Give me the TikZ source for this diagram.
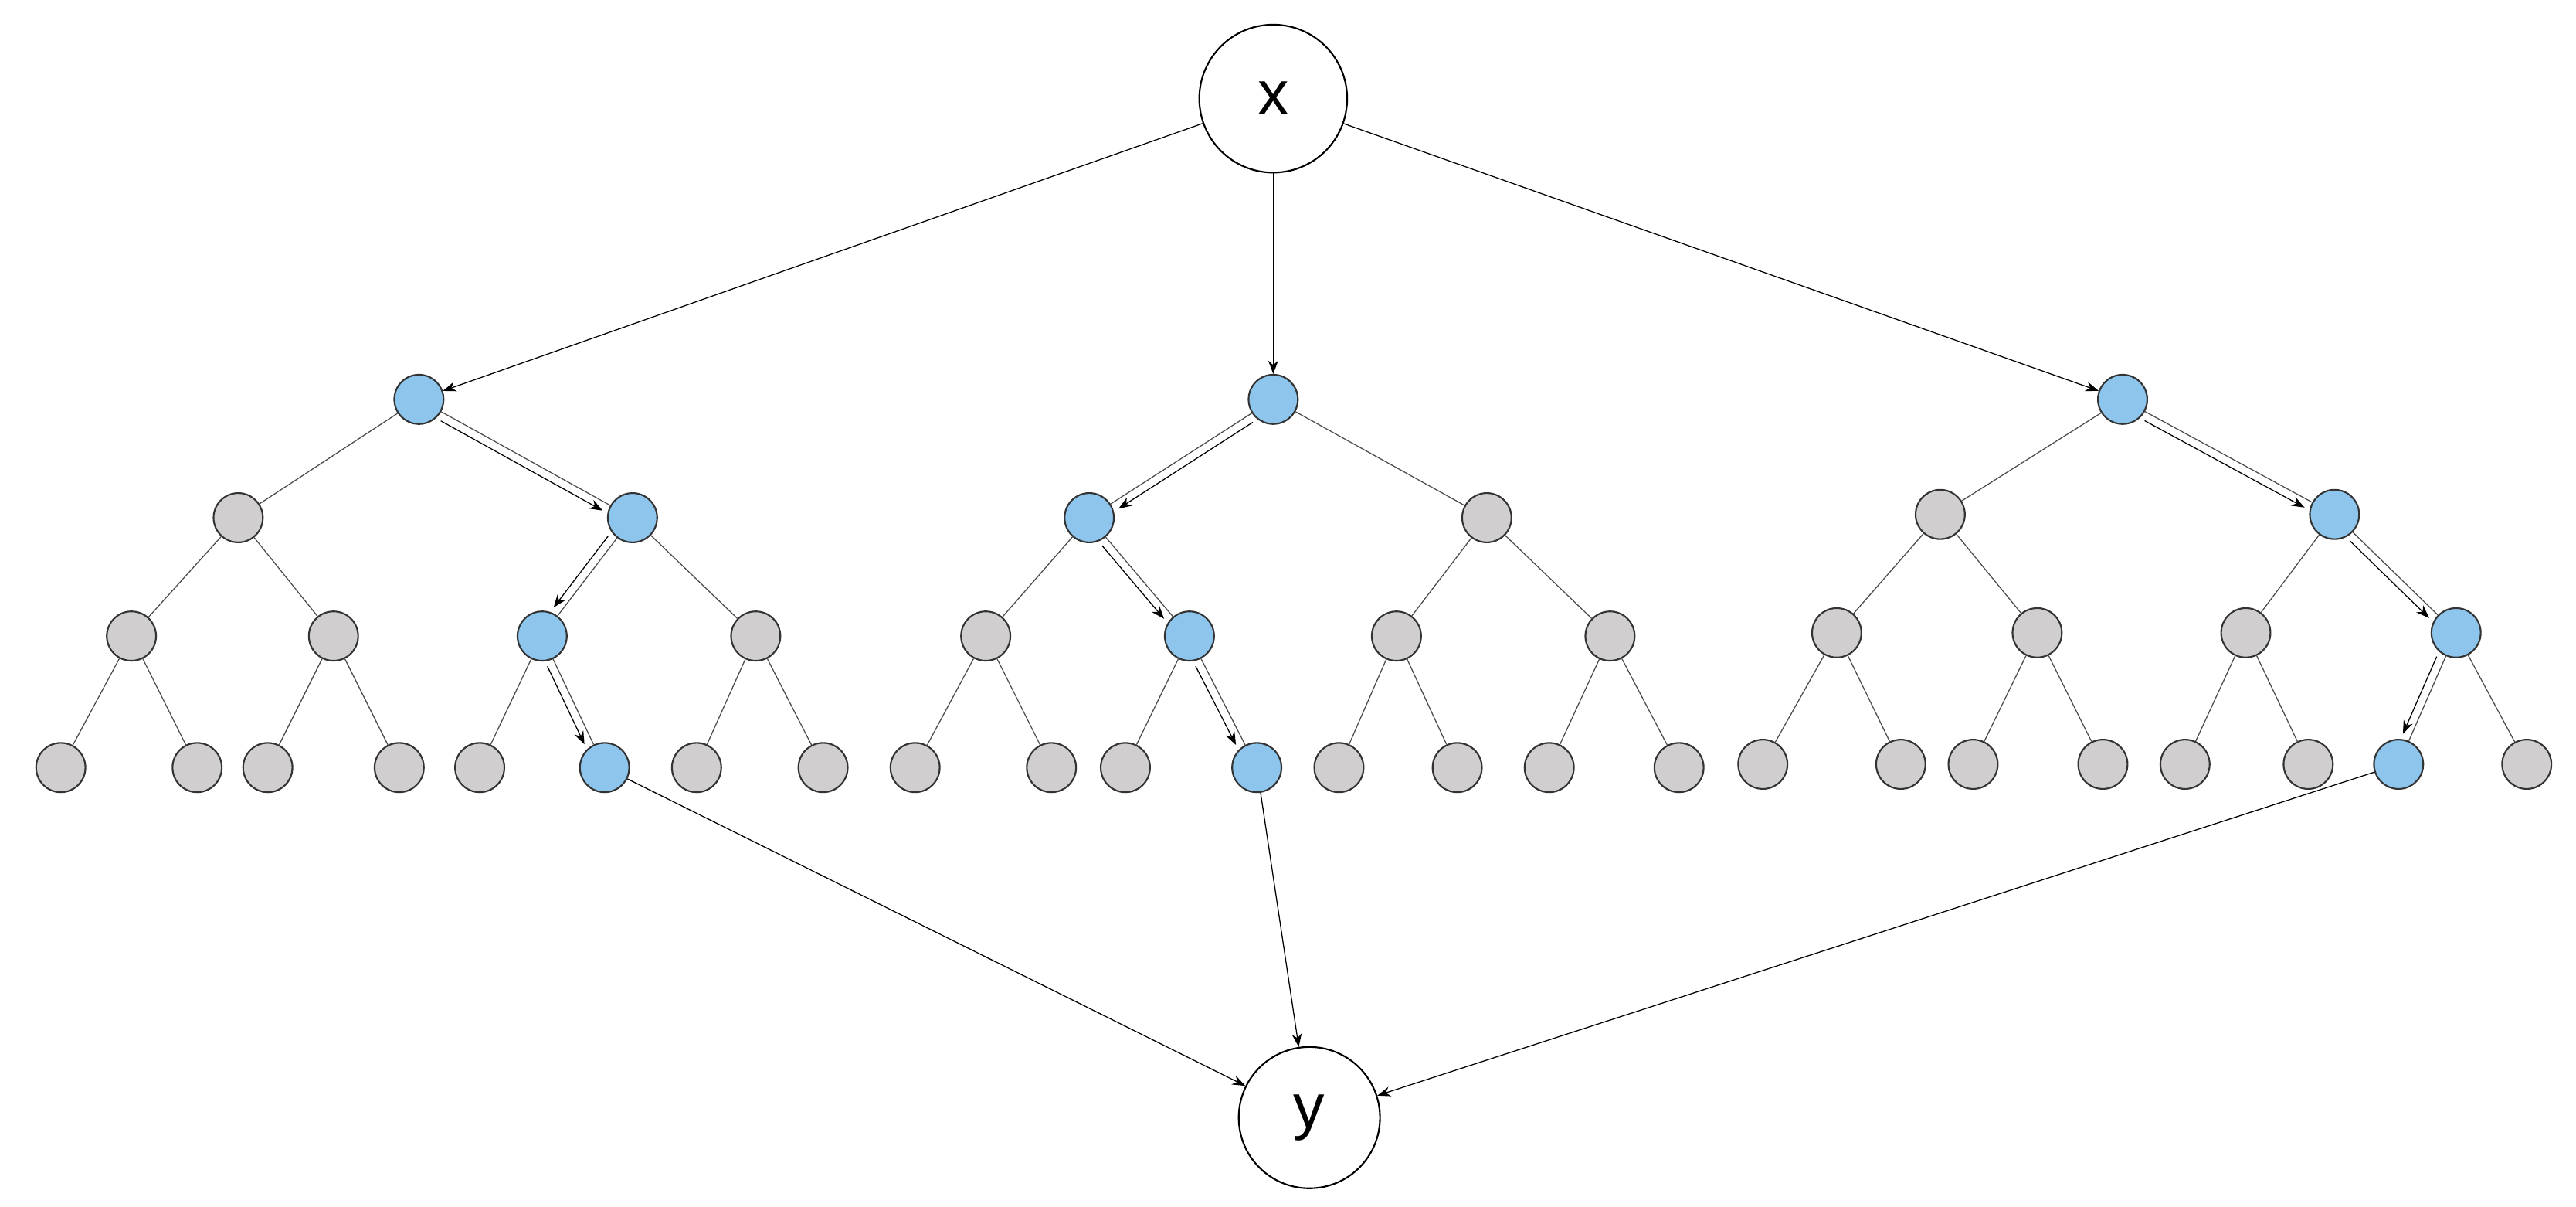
\documentclass[tikz,border=0pt]{standalone}
\usepackage{fontspec}
\setmainfont{Liberation Sans}
\usetikzlibrary{calc,arrows.meta}
\definecolor{nodeblue}{HTML}{8EC5EC}
\definecolor{nodegray}{HTML}{D0CECE}
\begin{document}
\begin{tikzpicture}[x=1pt,y=-1pt,
 g/.style={circle,draw=black!80,line width=1pt,fill=nodegray,minimum size=30pt,inner sep=0pt},
 b/.style={g,fill=nodeblue},
 big/.style={circle,draw,line width=1pt,fill=white,minimum size=90pt,font=\fontsize{38}{40}\selectfont},
 ed/.style={line width=0.6pt,black!70},
 ar/.style={line width=0.6pt,-{Stealth[length=8pt,width=6pt]}},
 pa/.style={line width=0.6pt,-{Stealth[length=8pt,width=6pt]}}]
\useasboundingbox (0,0) rectangle (1568,734);
\newcommand\parr[3]{\draw[pa] ($(#1)!18pt!(#2)!#3!-90:(#2)$) -- ($(#2)!18pt!(#1)!#3!90:(#1)$);}
\node[big] (x) at (775,60) {x};
\node[big,minimum size=86pt] (y) at (797,680) {y};
% tree 1
\node[b] (a) at (255,243) {};
\node[g] (a1) at (145,315) {}; \node[b] (a2) at (385,315) {};
\node[g] (a11) at (80,387) {}; \node[g] (a12) at (203,387) {};
\node[b] (a21) at (330,387) {}; \node[g] (a22) at (460,387) {};
\node[g] (l1) at (37,467) {}; \node[g] (l2) at (120,467) {};
\node[g] (l3) at (163,467) {}; \node[g] (l4) at (243,467) {};
\node[g] (l5) at (292,467) {}; \node[b] (l6) at (368,467) {};
\node[g] (l7) at (424,467) {}; \node[g] (l8) at (501,467) {};
% tree 2
\node[b] (c) at (775,243) {};
\node[b] (c1) at (663,315) {}; \node[g] (c2) at (905,315) {};
\node[g] (c11) at (600,387) {}; \node[b] (c12) at (724,387) {};
\node[g] (c21) at (850,387) {}; \node[g] (c22) at (980,387) {};
\node[g] (m1) at (557,467) {}; \node[g] (m2) at (640,467) {};
\node[g] (m3) at (685,467) {}; \node[b] (m4) at (765,467) {};
\node[g] (m5) at (815,467) {}; \node[g] (m6) at (887,467) {};
\node[g] (m7) at (943,467) {}; \node[g] (m8) at (1022,467) {};
% tree 3
\node[b] (e) at (1292,243) {};
\node[g] (e1) at (1181,313) {}; \node[b] (e2) at (1421,313) {};
\node[g] (e11) at (1118,385) {}; \node[g] (e12) at (1240,385) {};
\node[g] (e21) at (1367,385) {}; \node[b] (e22) at (1495,385) {};
\node[g] (n1) at (1073,465) {}; \node[g] (n2) at (1157,465) {};
\node[g] (n3) at (1201,465) {}; \node[g] (n4) at (1280,465) {};
\node[g] (n5) at (1330,465) {}; \node[g] (n6) at (1405,465) {};
\node[b] (n7) at (1460,465) {}; \node[g] (n8) at (1538,465) {};
\foreach \t/\l in {a/l,c/m,e/n}{
 \draw[ed] (\t)--(\t1); \draw[ed] (\t)--(\t2);
 \draw[ed] (\t1)--(\t11); \draw[ed] (\t1)--(\t12);
 \draw[ed] (\t2)--(\t21); \draw[ed] (\t2)--(\t22);
 \draw[ed] (\t11)--(\l1); \draw[ed] (\t11)--(\l2);
 \draw[ed] (\t12)--(\l3); \draw[ed] (\t12)--(\l4);
 \draw[ed] (\t21)--(\l5); \draw[ed] (\t21)--(\l6);
 \draw[ed] (\t22)--(\l7); \draw[ed] (\t22)--(\l8);
}
\draw[ar] (x)--(a); \draw[ar] (x)--(c); \draw[ar] (x)--(e);
\draw[ar] (l6)--(y); \draw[ar] (m4)--(y); \draw[ar] (n7)--(y);
\parr{a}{a2}{5pt} \parr{a2}{a21}{5pt} \parr{a21}{l6}{5pt}
\parr{c}{c1}{-5pt} \parr{c1}{c12}{5pt} \parr{c12}{m4}{5pt}
\parr{e}{e2}{5pt} \parr{e2}{e22}{5pt} \parr{e22}{n7}{5pt}
\end{tikzpicture}
\end{document}
